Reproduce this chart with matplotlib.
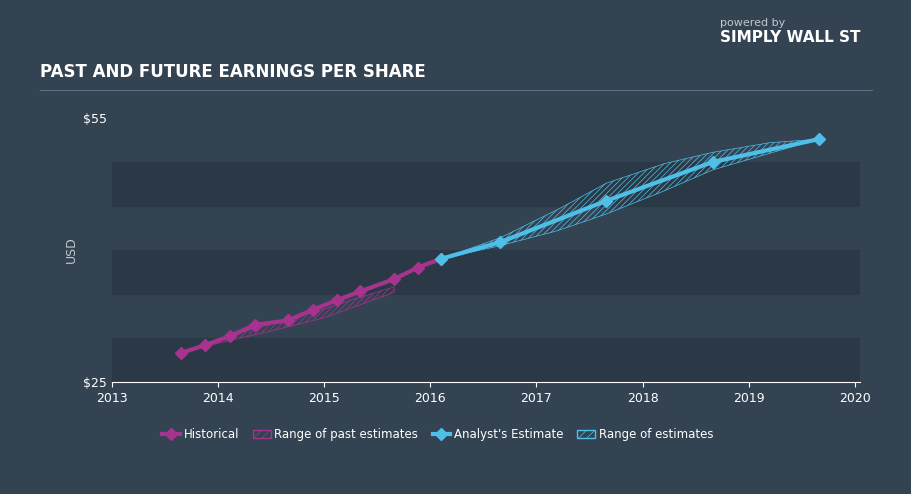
import matplotlib.pyplot as plt
from matplotlib.lines import Line2D
from matplotlib.patches import Patch

plt.rcParams['hatch.linewidth'] = 0.5

# historical EPS
hist_x = [2013.65, 2013.88, 2014.11, 2014.35, 2014.66, 2014.89, 2015.12, 2015.34, 2015.66, 2015.88, 2016.10]
hist_y = [28.3, 29.2, 30.2, 31.5, 32.0, 33.2, 34.3, 35.3, 36.7, 38.0, 39.0]
# range of past estimates
past_x = [2013.65, 2014.0, 2014.5, 2015.0, 2015.3, 2015.66]
past_lo = [28.3, 29.4, 30.8, 32.3, 33.6, 35.2]
past_hi = [28.3, 29.9, 31.6, 33.3, 34.5, 35.8]
# analyst forecast
fc_x = [2016.10, 2016.66, 2017.66, 2018.66, 2019.66]
fc_y = [39.0, 40.9, 45.6, 50.0, 52.6]
# range of estimates
rng_x = [2016.10, 2016.66, 2017.2, 2017.66, 2018.2, 2018.66, 2019.2, 2019.66]
rng_lo = [39.0, 40.5, 42.2, 44.1, 46.7, 49.1, 51.0, 52.6]
rng_hi = [39.0, 41.4, 44.6, 47.6, 49.8, 51.1, 52.2, 52.6]

bg = '#334352'
purple = '#a7338f'
blue = '#4fbfe8'

fig = plt.figure(figsize=(9.12, 4.94), dpi=100, facecolor=bg)
ax = fig.add_axes([0.1228, 0.2267, 0.8202, 0.5343])
ax.set_facecolor(bg)
for lo in [25, 35, 45]:
    ax.axhspan(lo, lo + 5, color='#2b3946', zorder=0)

ax.fill_between(past_x, past_lo, past_hi, facecolor='none', edgecolor=purple, hatch='//////', linewidth=0.5, zorder=2)
ax.fill_between(rng_x, rng_lo, rng_hi, facecolor='none', edgecolor=blue, hatch='//////', linewidth=0.5, zorder=2)
ax.plot(hist_x, hist_y, color=purple, lw=3, marker='D', ms=6, zorder=4)
ax.plot(fc_x, fc_y, color=blue, lw=3, marker='D', ms=6, zorder=4)

ax.set_xlim(2013, 2020.05)
ax.set_ylim(25, 55)
ax.set_xticks(range(2013, 2021))
ax.set_yticks([25, 55])
ax.set_yticklabels(['$25', '$55'])
ax.tick_params(colors='white', labelsize=9)
ax.tick_params(axis='y', length=0)
for s in ['top', 'right', 'left']:
    ax.spines[s].set_visible(False)
ax.spines['bottom'].set_color('white')
ax.set_ylabel('USD', color='#c0c8d0', fontsize=9)

fig.text(0.044, 0.845, 'PAST AND FUTURE EARNINGS PER SHARE', color='white', fontsize=12, fontweight='bold')
fig.add_artist(Line2D([0.044, 0.956], [0.818, 0.818], color='#5a6e82', lw=0.8))
fig.text(0.79, 0.947, 'powered by', color='#c0c8d0', fontsize=8)
fig.text(0.79, 0.915, 'SIMPLY WALL ST', color='white', fontsize=11, fontweight='bold')

handles = [
    Line2D([], [], color=purple, lw=3, marker='D', ms=6),
    Patch(facecolor='none', edgecolor=purple, hatch='////'),
    Line2D([], [], color=blue, lw=3, marker='D', ms=6),
    Patch(facecolor='none', edgecolor=blue, hatch='////'),
]
labels = ['Historical', 'Range of past estimates', "Analyst's Estimate", 'Range of estimates']
fig.legend(handles, labels, loc='center', bbox_to_anchor=(0.48, 0.12), ncol=4, frameon=False,
           labelcolor='white', fontsize=8.5, handlelength=1.5, columnspacing=1.2, handletextpad=0.3)

fig.savefig('out.png', facecolor=bg)
